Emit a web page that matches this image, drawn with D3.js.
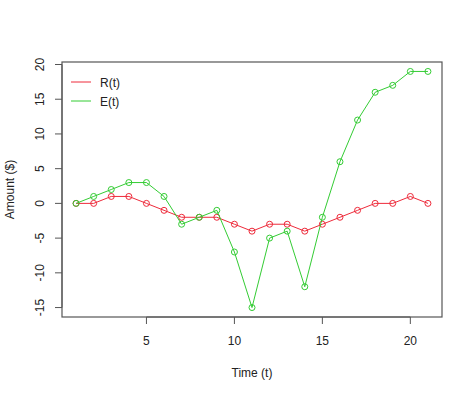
<!DOCTYPE html>
<html>
<head>
<meta charset="utf-8">
<script src="https://cdn.jsdelivr.net/npm/d3@7"></script>
<style>
  body { margin: 0; background: #fff; }
  text { font-family: "Liberation Sans", Arial, sans-serif; }
</style>
</head>
<body>
<div class="chart"></div>
<script>
const times = d3.range(1, 22)
const rValues = [0, 0, 1, 1, 0, -1, -2, -2, -2, -3, -4, -3, -3, -4, -3, -2, -1, 0, 0, 1, 0]
const eValues = [0, 1, 2, 3, 3, 1, -3, -2, -1, -7, -15, -5, -4, -12, -2, 6, 12, 16, 17, 19, 19]
const xTicks = [5, 10, 15, 20]
const yTicks = [-15, -10, -5, 0, 5, 10, 15, 20]
const seriesNames = ["R(t)", "E(t)"]
const seriesColors = ["#ee2a3a", "#33cc33"]

const width = 474
const height = 395
const box = {left: 62, right: 442, top: 62, bottom: 317}

const svg = d3.select('.chart')
  .append('svg')
  .attr("width", width)
  .attr("height", height)

// R style: 4% padding on both axes
const xPad = (21 - 1) * 0.04
const yPad = (19 - (-15)) * 0.04
const x = d3.scaleLinear().domain([1 - xPad, 21 + xPad]).range([box.left, box.right])
const y = d3.scaleLinear().domain([-15 - yPad, 19 + yPad]).range([box.bottom, box.top])

const axisColor = "#555"

// x axis
svg.append("line")
  .attr("x1", x(xTicks[0])).attr("x2", x(xTicks[xTicks.length - 1]))
  .attr("y1", box.bottom).attr("y2", box.bottom)
  .attr("stroke", axisColor)
svg.selectAll(".xtick")
  .data(xTicks)
  .join("line")
  .attr("x1", d => x(d)).attr("x2", d => x(d))
  .attr("y1", box.bottom).attr("y2", box.bottom + 7)
  .attr("stroke", axisColor)
svg.selectAll(".xlab")
  .data(xTicks)
  .join("text")
  .attr("x", d => x(d))
  .attr("y", 345)
  .attr("text-anchor", "middle")
  .attr("font-size", 12)
  .attr("fill", "#222")
  .text(d => d)

// y axis
svg.append("line")
  .attr("x1", box.left).attr("x2", box.left)
  .attr("y1", y(yTicks[0])).attr("y2", y(yTicks[yTicks.length - 1]))
  .attr("stroke", axisColor)
svg.selectAll(".ytick")
  .data(yTicks)
  .join("line")
  .attr("x1", box.left - 7).attr("x2", box.left)
  .attr("y1", d => y(d)).attr("y2", d => y(d))
  .attr("stroke", axisColor)
svg.selectAll(".ylab")
  .data(yTicks)
  .join("text")
  .attr("transform", d => `translate(44,${y(d)}) rotate(-90)`)
  .attr("text-anchor", "middle")
  .attr("font-size", 12)
  .attr("fill", "#222")
  .text(d => d)

// box
svg.append("rect")
  .attr("x", box.left).attr("y", box.top)
  .attr("width", box.right - box.left).attr("height", box.bottom - box.top)
  .attr("fill", "none")
  .attr("stroke", axisColor)
  .attr("stroke-width", 1.2)

// axis titles
svg.append("text")
  .attr("x", (box.left + box.right) / 2)
  .attr("y", 377)
  .attr("text-anchor", "middle")
  .attr("font-size", 12)
  .attr("fill", "#222")
  .text("Time (t)")
svg.append("text")
  .attr("transform", `translate(14,${(box.top + box.bottom) / 2}) rotate(-90)`)
  .attr("text-anchor", "middle")
  .attr("font-size", 12)
  .attr("fill", "#222")
  .text("Amount ($)")

// series
const series = [rValues, eValues]
const line = d3.line().x((d, i) => x(times[i])).y(d => y(d))

series.forEach((vals, k) => {
  svg.append("path")
    .datum(vals)
    .attr("d", line)
    .attr("fill", "none")
    .attr("stroke", seriesColors[k])
    .attr("stroke-width", 1)
  svg.selectAll(".pt" + k)
    .data(vals)
    .join("circle")
    .attr("cx", (d, i) => x(times[i]))
    .attr("cy", d => y(d))
    .attr("r", 3)
    .attr("fill", "none")
    .attr("stroke", seriesColors[k])
    .attr("stroke-width", 1)
})

// legend
const legend = svg.selectAll(".legend")
  .data(seriesNames)
  .join("g")
  .attr("transform", (d, i) => `translate(71,${82 + i * 19})`)
legend.append("line")
  .attr("x1", 0).attr("x2", 20)
  .attr("stroke", (d, i) => seriesColors[i])
legend.append("text")
  .attr("x", 29)
  .attr("y", 4.5)
  .attr("font-size", 12)
  .attr("fill", "#222")
  .text(d => d)
</script>
</body>
</html>
